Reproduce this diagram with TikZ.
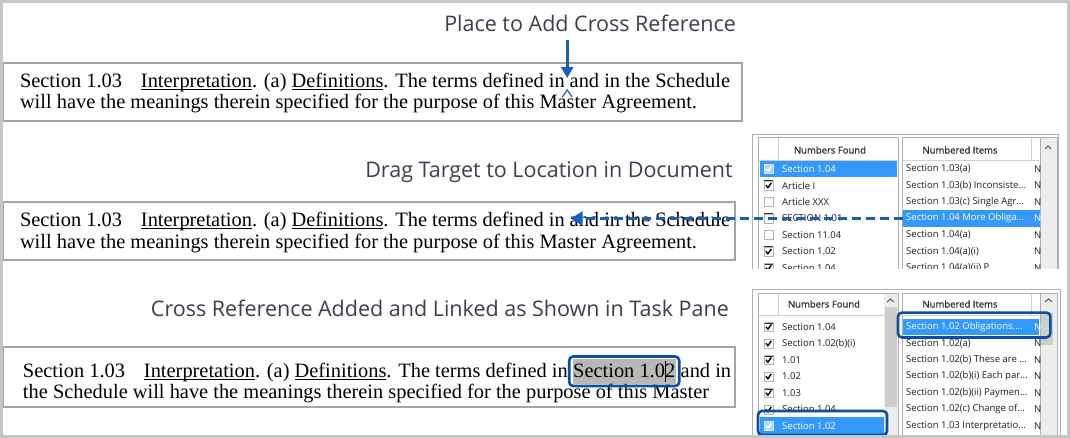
\documentclass[tikz,border=0pt]{standalone}
\usepackage{fontspec}
\usetikzlibrary{arrows.meta,fit,calc}
\newfontfamily\docfont{Liberation Serif}
\newfontfamily\ttlfont{Open Sans}
\newfontfamily\pfont{Open Sans}
\newfontfamily\hfont[FakeBold=0.6]{Open Sans}
\newcommand\tdots{...}
\newcommand\ulx[1]{\setbox0\hbox{#1}\rlap{\rule[-2.4pt]{\wd0}{0.9pt}}\box0}
\definecolor{ttl}{HTML}{3D3F4E}
\definecolor{xblue}{HTML}{1560BD}
\definecolor{selblue}{HTML}{3399FF}
\definecolor{boxblue}{HTML}{0B4EA2}
\definecolor{brd}{HTML}{A4A4A4}
\definecolor{outerc}{HTML}{C6C6C6}
\definecolor{plin}{HTML}{B0B0B0}
\definecolor{hdr}{HTML}{2B2B2B}
\definecolor{itemc}{HTML}{1E1E1E}
\definecolor{hlgray}{HTML}{B8B8B8}
\definecolor{sbar}{HTML}{EDEDED}
\definecolor{thumb}{HTML}{CDCDCD}
\begin{document}
\begin{tikzpicture}[x=1pt,y=-1pt,
  ttlnode/.style={font=\ttlfont\fontsize{21.5}{24}\selectfont, text=ttl, inner sep=0, anchor=base east},
  docline/.style={font=\docfont\fontsize{20.4}{21}\selectfont, text=black, inner sep=0, outer sep=0, anchor=base west},
  docbox/.style={draw=brd, line width=1.6pt, fill=white},
  item/.style={font=\pfont\fontsize{9.5}{11}\selectfont, text=itemc, inner sep=0, anchor=west},
  itemon/.style={item}, itemoff/.style={item}, itemsel/.style={item, text=white},
  hdrtext/.style={font=\hfont\fontsize{9.5}{11}\selectfont, text=hdr, inner sep=0},
  cb/.style={minimum size=9pt, inner sep=0, fill=white, draw=black!30, line width=0.6pt},
  cboff/.style={cb, path picture={\draw[black!80,line width=2pt] (path picture bounding box.south west) -- (path picture bounding box.north west) -- (path picture bounding box.north east);}},
  cbon/.style={cb, path picture={\draw[black!80,line width=2pt] (path picture bounding box.south west) -- (path picture bounding box.north west) -- (path picture bounding box.north east);
     \draw[black, line width=1.4pt] ([xshift=-2.6pt,yshift=0.3pt]path picture bounding box.center) -- ([xshift=-0.6pt,yshift=-2.2pt]path picture bounding box.center) -- ([xshift=2.8pt,yshift=2.6pt]path picture bounding box.center);}},
  cbsel/.style={minimum size=9pt, inner sep=0, fill=white!60!selblue, draw=white!80!selblue, line width=0.6pt, path picture={
     \draw[white, line width=1.4pt] ([xshift=-2.6pt,yshift=0.3pt]path picture bounding box.center) -- ([xshift=-0.6pt,yshift=-2.2pt]path picture bounding box.center) -- ([xshift=2.8pt,yshift=2.6pt]path picture bounding box.center);}},
  hlrow/.style={fill=selblue, inner sep=0, anchor=west, minimum height=16.5pt},
  selbox/.style={draw=boxblue, line width=2.6pt, rounded corners=4pt},
  caretmark/.style={black!70, line width=0.9pt}
]
\useasboundingbox (0,0) rectangle (1070,438);
\fill[white] (0,0) rectangle (1070,438);

% titles
\node[ttlnode] (T1) at (736,32) {Place to Add Cross Reference};
\node[ttlnode] (T2) at (733,178) {Drag Target to Location in Document};
\node[ttlnode] (T3) at (729,316) {Cross Reference Added and Linked as Shown in Task Pane};

% ---------- box 1
\draw[docbox] (3,63) rectangle (742,121);
\node[docline] (A1) at (20,88) {Section 1.03\hspace{19pt}\ulx{Interpretation}. (a) \ulx{Definitions}. The terms defined in};
\node[docline] (C1) at ([xshift=5pt]A1.base east) {and in the Schedule};
\node[docline] (D1) at (20,109) {will have the meanings therein specified for the purpose of this Master Agreement.};
\coordinate (ins) at ($(A1.base east)!0.5!(C1.base west)$);
\draw[xblue, line width=3pt, -{Triangle[width=12pt,length=11pt]}] ([yshift=-8pt]T1.south -| ins) -- ([yshift=10pt]ins);
\draw[xblue, line width=1.2pt] ([xshift=-5pt,yshift=-9pt]ins) -- ([yshift=-2pt]ins) -- ([xshift=5pt,yshift=-9pt]ins);

% ---------- box 2
\draw[docbox] (3,202) rectangle (735,260);
\node[docline] (A2) at (20,227) {Section 1.03\hspace{19pt}\ulx{Interpretation}. (a) \ulx{Definitions}. The terms defined in};
\node[docline] (C2) at ([xshift=5pt]A2.base east) {and in the Schedule};
\node[docline] (D2) at (20,248) {will have the meanings therein specified for the purpose of this Master Agreement.};
\coordinate (drop) at ([xshift=1pt,yshift=6pt]C2.base west);

% ---------- box 3
\draw[docbox] (3,347) rectangle (735,407);
\node[docline] (A3) at (23,377) {Section 1.03\hspace{19pt}\ulx{Interpretation}. (a) \ulx{Definitions}. The terms defined in};
\node[docline, fill=hlgray, inner xsep=0.5pt, inner ysep=1.5pt, text height=17pt, text depth=5.5pt] (B3) at ([xshift=5pt]A3.base east) {Section 1.02};
\node[docline] (C3) at ([xshift=5pt]B3.base east) {and in};
\node[docline] (D3) at (23,398) {the Schedule will have the meanings therein specified for the purpose of this Master};
\draw[black, line width=0.8pt] ([xshift=-10pt,yshift=-2pt]B3.north east) -- ([xshift=-10pt,yshift=2pt]B3.south east);
\node[selbox, fit=(B3), inner xsep=3.5pt, inner ysep=2pt] (F3) {};

% ---------- panel 2
\begin{scope}
\clip (751,133) rectangle (1060,268.5);
\fill[white] (751,133) rectangle (1060,270);
\draw[plin] (752.5,134.5) rectangle (1058.5,280);
\draw[plin] (758.5,137.5) rectangle (898.5,280);
\draw[plin] (902.5,137.5) rectangle (1057,280);
\fill[sbar] (1040,138) rectangle (1056.5,280);
\draw[plin] (1040,138) -- (1040,280);
\draw[caretmark] (1045,149) -- (1048,146) -- (1051,149);
\draw[plin!60] (759,160.5) -- (898,160.5);
\draw[plin!60] (778,138) -- (778,160);
\draw[plin!60] (903,160.5) -- (1040,160.5);
\draw[plin!60] (1031,138) -- (1031,160);
\node[hdrtext] (h2a) at (830,150) {Numbers Found};
\node[hdrtext] (h2b) at (960,150) {Numbered Items};
\node[hlrow, minimum width=137pt] (hl2l) at (760,169) {};
\node[hlrow, minimum width=137pt] (hl2) at (903,218.5) {};
\foreach \t/\k [count=\i from 0] in {{Section 1.04}/sel, {Article I}/on, {Article XXX}/off, {SECTION 1.01}/off, {Section 11.04}/off, {Section 1.02}/on, {Section 1.04}/on}{
  \node[cb\k] (cbb-\i) at (768.5,{169+16.5*\i}) {};
  \node[item\k] (lb-\i) at (782,{169+16.5*\i}) {\t};
}
\foreach \t/\k [count=\i from 0] in {{Section 1.03(a)}/off, {Section 1.03(b) Inconsiste\tdots}/off, {Section 1.03(c) Single Agr\tdots}/off, {Section 1.04 More Obliga\tdots}/sel, {Section 1.04(a)}/off, {Section 1.04(a)(i)}/off, {Section 1.04(a)(ii) P\tdots}/off}{
  \node[item\k] (rb-\i) at (906,{169+16.5*\i}) {\t};
  \node[item\k] (nb-\i) at (1034,{169+16.5*\i}) {N};
}
\end{scope}
\draw[xblue, line width=2.6pt, dash pattern=on 9pt off 5pt, -{Triangle[width=14pt,length=12pt]}] (hl2.west) -- (hl2.west -| drop);

% ---------- panel 3
\begin{scope}
\clip (751,288) rectangle (1062,436);
\fill[white] (751,288) rectangle (1062,437);
\draw[plin] (752.5,289.5) rectangle (1060,445);
\draw[plin] (758.5,293.5) rectangle (898.5,445);
\draw[plin] (902.5,293.5) rectangle (1057,445);
\fill[sbar] (884,294) rectangle (898,445);
\fill[thumb] (885,307) rectangle (897,407);
\draw[caretmark] (887,302) -- (890.5,299) -- (894,302);
\fill[sbar] (1040,294) rectangle (1056.5,445);
\fill[thumb] (1041,313) rectangle (1053,345);
\draw[plin] (1040,294) -- (1040,445);
\draw[caretmark] (1045,302) -- (1048.5,299) -- (1052,302);
\draw[plin!60] (759,315.5) -- (884,315.5);
\draw[plin!60] (778,294) -- (778,315);
\draw[plin!60] (903,315.5) -- (1040,315.5);
\draw[plin!60] (1031,294) -- (1031,315);
\node[hdrtext] (h3a) at (824,304) {Numbers Found};
\node[hdrtext] (h3b) at (960,304) {Numbered Items};
\foreach \t/\k [count=\i from 0] in {{Section 1.04}/on, {Section 1.02(b)(i)}/on, {1.01}/on, {1.02}/on, {1.03}/on, {Section 1.04}/on}{
  \node[cb\k] (cbc-\i) at (768.5,{327+16.5*\i}) {};
  \node[item\k] (lc-\i) at (782,{327+16.5*\i}) {\t};
}
\node[hlrow, minimum width=124pt, minimum height=19pt] (hl3l) at (760,426.5) {};
\node[cbsel] (cbc-6) at (768.5,426) {};
\node[itemsel] (lc-6) at (782,426) {Section 1.02};
\node[hlrow, minimum width=136pt] (hl3r) at (903,327) {};
\foreach \t/\k [count=\i from 0] in {{Section 1.02 Obligations.\tdots}/sel, {Section 1.02(a)}/off, {Section 1.02(b) These are \tdots}/off, {Section 1.02(b)(i) Each par\tdots}/off, {Section 1.02(b)(ii) Paymen\tdots}/off, {Section 1.02(c) Change of\tdots}/off, {Section 1.03 Interpretatio\tdots}/off}{
  \node[item\k] (rc-\i) at (906,{327+16.5*\i}) {\t};
  \node[item\k] (nc-\i) at (1034,{327+16.5*\i}) {N};
}
\draw[selbox] (758,411) rectangle (887,435);
\draw[selbox] ([xshift=-5pt,yshift=6pt]hl3r.north west) rectangle ([xshift=11pt,yshift=-2pt]hl3r.south east);
\end{scope}

% outer frame
\draw[outerc, line width=3pt] (1.5,1.5) rectangle (1068.5,436.5);
\end{tikzpicture}
\end{document}
